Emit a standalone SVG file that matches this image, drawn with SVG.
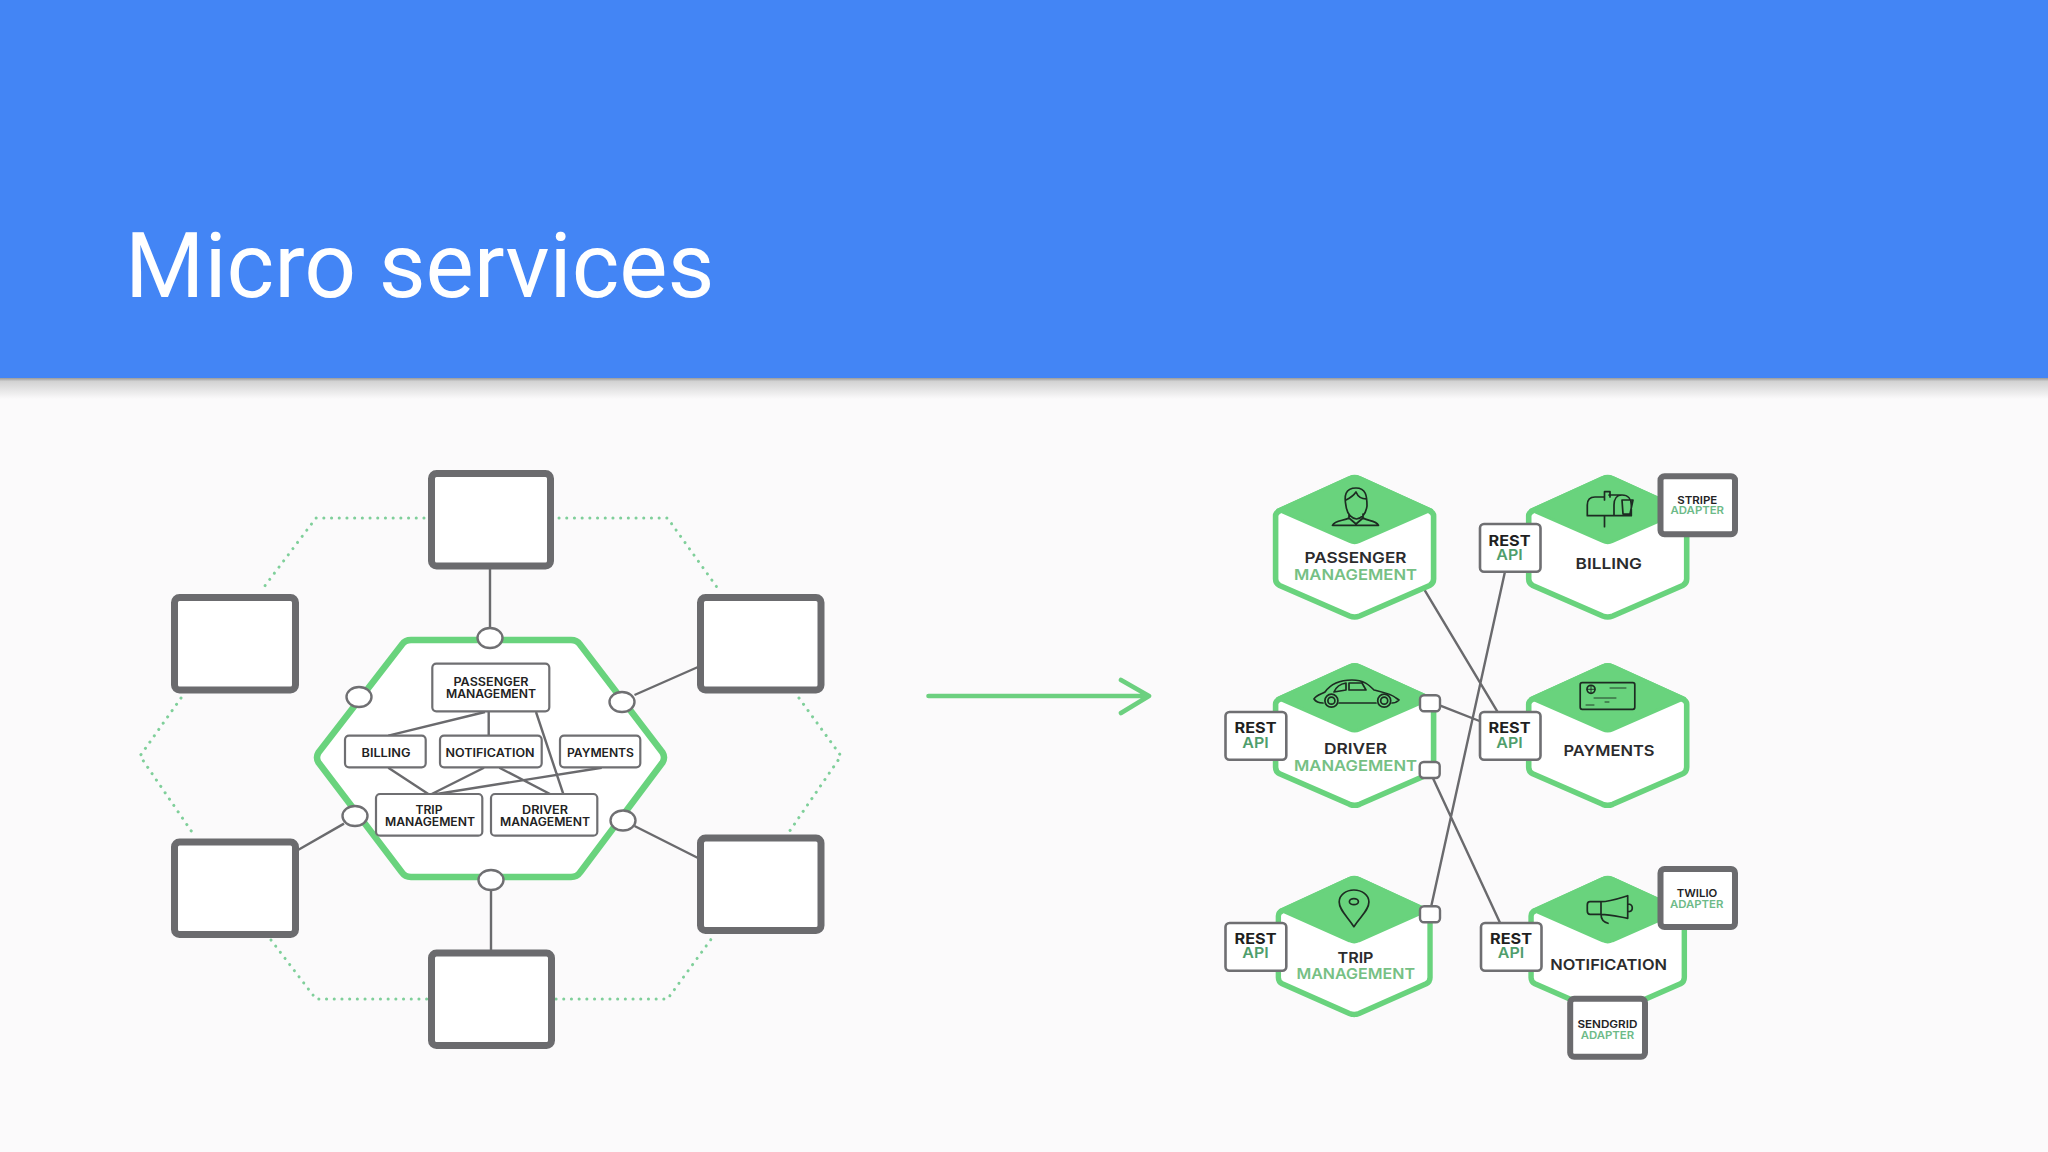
<svg xmlns="http://www.w3.org/2000/svg" width="2048" height="1152" viewBox="0 0 2048 1152">
<style>
text{font-family:"Inter","Liberation Sans",Arial,sans-serif;font-weight:600;text-anchor:middle}
.title{font-family:"Roboto","Liberation Sans",sans-serif;font-weight:400;font-size:91px;fill:#fff;text-anchor:start}
.t0{font-size:11.3px;fill:#222}
.t1{font-size:15px;fill:#2b2b2d}
.tg{font-size:15px;fill:#76c084}
.tr{font-size:15px;fill:#1f1f21;font-weight:700}
.ta{font-size:15px;fill:#4f9e6c}
.ts{font-size:10.5px;fill:#232325}
.tsg{font-size:10.5px;fill:#6dba88}
.ext{fill:#fff;stroke:#6b6b6e;stroke-width:7}
.inner{fill:#fff;stroke:#6f6f72;stroke-width:2.2}
.port{fill:#fff;stroke:#6f6f72;stroke-width:2.4}
.rest{fill:#fff;stroke:#6f6f72;stroke-width:2.6}
.adp{fill:#fff;stroke:#6b6b6e;stroke-width:6}
.con{stroke:#6a6a6d;stroke-width:2.4;fill:none}
.dot{stroke:#7fcf9a;stroke-width:3;fill:none;stroke-dasharray:.1 7.6;stroke-linecap:round}
.ico{fill:none;stroke:#1d2b22;stroke-width:1.7;stroke-linejoin:round;stroke-linecap:round}
</style>
<defs>
<linearGradient id="sh" x1="0" y1="0" x2="0" y2="1"><stop offset="0" stop-color="#8a8a8a"/><stop offset=".2" stop-color="#d2d2d2"/><stop offset="1" stop-color="#fbfafb"/></linearGradient>
<g id="hex">
<path d="M79,105Q79,109.500 75,111.500L5,142Q0,144 -5,142L-75,111.500Q-79,109.500 -79,105V42Q-79,38.500 -75,36.800L-5,4.800Q0,2.800 5,4.800L75,36.800Q79,38.500 79,42Z" fill="#fff" stroke="#69d37d" stroke-width="5.600" stroke-linejoin="round"/>
<path d="M-5,3.500Q0,1 5,3.500L77,36L5,67.500Q0,70 -5,67.500L-77,36Z" fill="#69d37d" stroke="#69d37d" stroke-width="3" stroke-linejoin="round"/>
</g>
</defs>
<rect width="2048" height="1152" fill="#fbfafb"/>
<rect y="377" width="2048" height="22" fill="url(#sh)"/>
<rect width="2048" height="378" fill="#4385f5"/>
<text class="title" x="125" y="297">Micro services</text>

<g id="outer-dotted">
<path class="dot" d="M424,518H316L260.600,591.500"/>
<path class="dot" d="M559,518H667.500L720,591.500"/>
<path class="dot" d="M181,698L140,756L194,835"/>
<path class="dot" d="M799,698L841,756L788,833.500"/>
<path class="dot" d="M271,940L316,999H427"/>
<path class="dot" d="M556,999H667.500L712,938"/>
</g>

<g id="monolith-hex"><path d="M411,640H571Q577,640 580,644.500L662.500,752.500Q665.500,757.500 662.500,762.500L580,872.500Q577,877 571,877H411Q405,877 402,872.500L318.500,762.500Q315.500,757.500 318.500,752.500L402,644.500Q405,640 411,640Z" fill="#fff" stroke="#69d37d" stroke-width="6.500" stroke-linejoin="round"/></g>

<g id="connectors">
<path class="con" d="M490,569V628M634.500,695L698,667M344,823.600L298,850M634.500,826L698,858M491,890V951"/>
<path class="con" d="M485,712L388.300,735.700M488.700,712V735.700M536,712L563.300,794M388.300,767.700L428.300,794M484,767.700L431.700,794M499.300,767.700L550,794M601.700,767.700L436.700,794"/>
<path class="con" d="M1424.200,589.300L1497.400,711.700M1504.900,572L1431.300,906M1440.300,705.700L1479.500,721M1433,778.300L1500,922.700"/>
<path d="M928.500,696H1149M1121,680L1149,696L1121,713" fill="none" stroke="#6cd07f" stroke-width="4.600" stroke-linecap="round" stroke-linejoin="round"/>
</g>

<g id="ext-top"><rect class="ext" x="431.500" y="473.500" width="119" height="92.500" rx="5"/></g>
<g id="ext-upper-left"><rect class="ext" x="174.500" y="597.500" width="121" height="92.500" rx="5"/></g>
<g id="ext-upper-right"><rect class="ext" x="700.500" y="597.500" width="120.500" height="92.500" rx="5"/></g>
<g id="ext-lower-left"><rect class="ext" x="174.500" y="842" width="121" height="92.500" rx="5"/></g>
<g id="ext-lower-right"><rect class="ext" x="700.500" y="838" width="120.500" height="92.500" rx="5"/></g>
<g id="ext-bottom"><rect class="ext" x="431.500" y="953" width="120" height="92.500" rx="5"/></g>

<g id="port-top"><ellipse class="port" cx="490" cy="638" rx="12.500" ry="10"/></g>
<g id="port-upper-left"><ellipse class="port" cx="359" cy="697" rx="12.500" ry="10"/></g>
<g id="port-upper-right"><ellipse class="port" cx="622" cy="702" rx="12.500" ry="10"/></g>
<g id="port-lower-left"><ellipse class="port" cx="355" cy="816" rx="12.500" ry="10"/></g>
<g id="port-lower-right"><ellipse class="port" cx="623" cy="820.500" rx="12.500" ry="10"/></g>
<g id="port-bottom"><ellipse class="port" cx="491" cy="880" rx="12.500" ry="10"/></g>

<g id="m-passenger"><rect class="inner" x="432.300" y="663.700" width="117" height="47.600" rx="4"/>
<text class="t0" x="491" y="685.800" textLength="75" lengthAdjust="spacingAndGlyphs">PASSENGER</text>
<text class="t0" x="491" y="698" textLength="90" lengthAdjust="spacingAndGlyphs">MANAGEMENT</text></g>
<g id="m-billing"><rect class="inner" x="345" y="735.700" width="80.700" height="31.600" rx="4"/>
<text class="t0" x="386" y="757" textLength="49" lengthAdjust="spacingAndGlyphs">BILLING</text></g>
<g id="m-notification"><rect class="inner" x="440" y="735.700" width="101.700" height="31.600" rx="4"/>
<text class="t0" x="490" y="757" textLength="89" lengthAdjust="spacingAndGlyphs">NOTIFICATION</text></g>
<g id="m-payments"><rect class="inner" x="560" y="735.700" width="80.300" height="31.600" rx="4"/>
<text class="t0" x="600.500" y="757" textLength="67" lengthAdjust="spacingAndGlyphs">PAYMENTS</text></g>
<g id="m-trip"><rect class="inner" x="376" y="794" width="106.300" height="41.700" rx="4"/>
<text class="t0" x="429" y="814" textLength="27" lengthAdjust="spacingAndGlyphs">TRIP</text>
<text class="t0" x="430" y="826.400" textLength="90" lengthAdjust="spacingAndGlyphs">MANAGEMENT</text></g>
<g id="m-driver"><rect class="inner" x="491" y="794" width="106.300" height="41.700" rx="4"/>
<text class="t0" x="545" y="814" textLength="46" lengthAdjust="spacingAndGlyphs">DRIVER</text>
<text class="t0" x="545" y="826.400" textLength="90" lengthAdjust="spacingAndGlyphs">MANAGEMENT</text></g>

<g id="svc-passenger"><use href="#hex" transform="translate(1354.600 474)"/>
<path class="ico" d="M1346,506C1344,496 1345,488 1356,488C1366,488 1367,496 1367,506C1366,513 1362,518 1356.500,519C1351,518 1347,513 1346,506ZM1346,500C1350,498 1354,495 1356,492C1358,497 1362,499 1366.500,499M1349,514V518C1344,521 1335,520 1332.500,525.300H1378.500C1376,520 1367,521 1363,518V514M1349,518L1356,524L1363,518"/>
<text class="t1" x="1355.500" y="563.300" textLength="102" lengthAdjust="spacingAndGlyphs">PASSENGER</text>
<text class="tg" x="1355.500" y="579.800" textLength="123" lengthAdjust="spacingAndGlyphs">MANAGEMENT</text></g>

<g id="svc-billing"><use href="#hex" transform="translate(1607.700 474)"/>
<path class="ico" d="M1604.500,497H1595C1590,497 1587.300,500 1587.300,505V515.700H1631.300V505C1631.300,499 1628,495 1622,495H1609M1622,495C1617,495 1614,499 1614,505V515.700M1604.500,515.700V526.700M1604.500,500V491.700H1610V497M1622,500H1633L1630,514H1623Z"/>
<text class="t1" x="1608.800" y="568.700" textLength="66.400" lengthAdjust="spacingAndGlyphs">BILLING</text></g>

<g id="svc-driver"><use href="#hex" transform="translate(1354.600 662.300)"/>
<path class="ico" d="M1314,699C1316,695 1322,694 1325,692C1330,685 1337,680 1352,680C1364,680 1369,685 1374,690C1382,692 1392,694 1396,698L1399,700C1397,702 1394,703 1392,703M1376,703H1339M1323,703C1319,703 1316,702 1314,699M1334,692C1336,687 1340,684 1346,683V690ZM1349,683H1362L1366,690H1349Z"/>
<circle class="ico" cx="1331.400" cy="700.700" r="6.500"/><circle class="ico" cx="1331.400" cy="700.700" r="3.500"/>
<circle class="ico" cx="1384.200" cy="700.700" r="6.500"/><circle class="ico" cx="1384.200" cy="700.700" r="3.500"/>
<text class="t1" x="1355.500" y="753.700" textLength="63" lengthAdjust="spacingAndGlyphs">DRIVER</text>
<text class="tg" x="1355.500" y="770.500" textLength="123" lengthAdjust="spacingAndGlyphs">MANAGEMENT</text></g>

<g id="svc-payments"><use href="#hex" transform="translate(1607.700 662.300)"/>
<rect class="ico" x="1580.200" y="682.700" width="54.600" height="26.600" rx="2"/>
<circle class="ico" cx="1591" cy="689.300" r="4" stroke-width="1.200"/>
<path class="ico" style="stroke-width:.9" d="M1587,689.300H1595M1591,685.300V693.300M1610,688H1626M1594,698H1616M1605,702H1609M1586,705H1594"/>
<text class="t1" x="1609" y="756.300" textLength="91" lengthAdjust="spacingAndGlyphs">PAYMENTS</text></g>

<g id="svc-trip"><use href="#hex" transform="translate(1354.200 875) scale(.96 .975)"/>
<path class="ico" d="M1353.900,926.700C1347,916 1339.200,910 1339.200,902C1339.200,895 1346,890 1353.900,890C1362,890 1368.900,895 1368.900,902C1368.900,910 1361,916 1353.900,926.700Z"/>
<ellipse class="ico" cx="1353.900" cy="901.700" rx="4.500" ry="3"/>
<text class="t1" x="1355.500" y="963.300" textLength="36" lengthAdjust="spacingAndGlyphs">TRIP</text>
<text class="tg" x="1355.700" y="978.700" textLength="118.600" lengthAdjust="spacingAndGlyphs">MANAGEMENT</text></g>

<g id="svc-notification"><use href="#hex" transform="translate(1607.700 875) scale(.97 .975)"/>
<path class="ico" d="M1601,901.700H1590C1588,901.700 1587.300,903 1587.300,905V911C1587.300,913 1588,914.300 1590,914.300H1601C1610,914.300 1620,917 1627.700,918.300V895.700C1620,898 1610,901.700 1601,901.700ZM1601,901.700V914.300C1601,919 1603,922 1608,923.300M1627.700,904C1631,904 1632.300,906 1632.300,908C1632.300,910 1631,911.700 1627.700,911.700"/>
<text class="t1" x="1608.600" y="969.700" textLength="116.800" lengthAdjust="spacingAndGlyphs">NOTIFICATION</text></g>

<g id="svc-port-1"><rect class="port" x="1420" y="695.300" width="20" height="16" rx="4"/></g>
<g id="svc-port-2"><rect class="port" x="1419.700" y="762" width="20" height="16" rx="4"/></g>
<g id="svc-port-3"><rect class="port" x="1420" y="906.300" width="20" height="16" rx="4"/></g>

<g id="rest-billing"><rect class="rest" x="1480" y="524" width="60.500" height="47.700" rx="4"/>
<text class="tr" x="1509.500" y="545.700" textLength="42" lengthAdjust="spacingAndGlyphs">REST</text>
<text class="ta" x="1509.500" y="560" textLength="26.400" lengthAdjust="spacingAndGlyphs">API</text></g>
<g id="rest-payments"><rect class="rest" x="1480" y="712" width="60.500" height="47.700" rx="4"/>
<text class="tr" x="1509.500" y="733.300" textLength="42" lengthAdjust="spacingAndGlyphs">REST</text>
<text class="ta" x="1509.500" y="747.700" textLength="26.400" lengthAdjust="spacingAndGlyphs">API</text></g>
<g id="rest-driver"><rect class="rest" x="1225.500" y="712" width="60.800" height="47.700" rx="4"/>
<text class="tr" x="1255.500" y="733.300" textLength="42" lengthAdjust="spacingAndGlyphs">REST</text>
<text class="ta" x="1255.500" y="747.700" textLength="26.400" lengthAdjust="spacingAndGlyphs">API</text></g>
<g id="rest-trip"><rect class="rest" x="1225.500" y="923" width="60.800" height="47.700" rx="4"/>
<text class="tr" x="1255.500" y="944" textLength="42" lengthAdjust="spacingAndGlyphs">REST</text>
<text class="ta" x="1255.500" y="958.300" textLength="26.400" lengthAdjust="spacingAndGlyphs">API</text></g>
<g id="rest-notification"><rect class="rest" x="1481" y="923" width="60.500" height="47.700" rx="4"/>
<text class="tr" x="1511" y="944" textLength="42" lengthAdjust="spacingAndGlyphs">REST</text>
<text class="ta" x="1511" y="958.300" textLength="26.400" lengthAdjust="spacingAndGlyphs">API</text></g>

<g id="adapter-stripe"><rect class="adp" x="1660.500" y="476.300" width="74.500" height="58" rx="4"/>
<text class="ts" x="1697.300" y="503.600" textLength="40" lengthAdjust="spacingAndGlyphs">STRIPE</text>
<text class="tsg" x="1697.300" y="514.300" textLength="53.500" lengthAdjust="spacingAndGlyphs">ADAPTER</text></g>
<g id="adapter-twilio"><rect class="adp" x="1660.500" y="869" width="74.500" height="58" rx="4"/>
<text class="ts" x="1697" y="896.800" textLength="40.500" lengthAdjust="spacingAndGlyphs">TWILIO</text>
<text class="tsg" x="1696.700" y="907.500" textLength="53.500" lengthAdjust="spacingAndGlyphs">ADAPTER</text></g>
<g id="adapter-sendgrid"><rect class="adp" x="1570.200" y="998.800" width="74.800" height="58" rx="4"/>
<text class="ts" x="1607.400" y="1027.700" textLength="60" lengthAdjust="spacingAndGlyphs">SENDGRID</text>
<text class="tsg" x="1607.400" y="1038.700" textLength="53.500" lengthAdjust="spacingAndGlyphs">ADAPTER</text></g>
</svg>
